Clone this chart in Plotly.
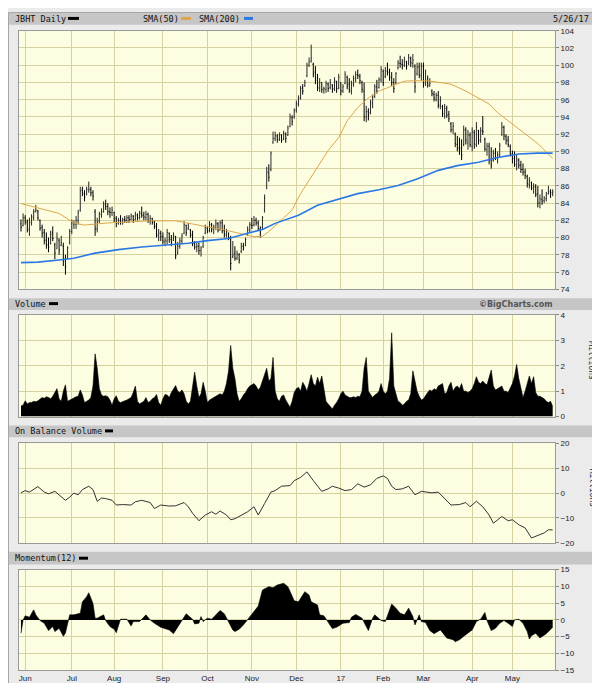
import plotly.graph_objects as go

W, H = 600, 683

# ---------------- data ----------------
high = [82.1,82.8,82.6,82.1,82.3,82.7,83.3,83.8,83.2,82.1,81.5,81.0,80.6,80.0,80.8,81.3,79.4,80.6,79.9,80.2,
        79.4,78.0,79.0,81.0,82.1,82.0,82.5,83.2,85.9,85.9,85.5,85.9,86.5,85.9,85.5,83.3,82.3,83.0,83.4,84.2,
        84.4,84.0,83.5,83.6,83.0,82.5,82.3,82.6,82.3,82.5,82.6,82.6,82.8,82.6,83.0,82.8,83.1,83.6,83.0,83.1,
        82.9,82.6,82.3,82.0,81.7,81.0,80.8,80.6,80.0,81.0,80.6,80.3,80.6,80.2,79.5,80.0,80.5,81.9,81.5,81.7,
        81.0,80.8,79.6,79.4,79.4,79.0,80.2,81.5,81.3,81.9,81.7,81.5,82.1,81.8,82.0,82.1,81.5,81.0,80.6,80.2,
        79.6,79.0,78.5,78.2,79.4,79.4,80.0,81.3,81.8,82.3,82.5,82.3,82.0,81.3,82.5,85.0,88.2,88.5,90.0,92.3,
        92.3,92.0,92.2,92.0,92.4,92.2,93.0,94.4,94.2,95.0,95.9,96.5,97.6,97.8,98.3,100.3,100.9,102.4,100.3,99.9,
        99.0,98.5,98.0,97.5,98.2,98.0,98.4,97.8,98.6,98.2,99.0,98.0,97.8,99.3,98.8,98.5,98.2,98.8,99.3,99.5,
        99.0,98.2,98.0,95.3,95.0,96.0,96.6,97.8,98.3,98.6,99.9,99.5,99.8,100.3,99.6,99.2,98.5,99.2,100.6,101.1,
        100.7,101.0,100.5,101.3,101.0,101.3,100.1,100.3,100.3,100.3,100.3,99.5,98.8,98.5,97.2,97.0,96.8,97.0,96.4,95.4,
        95.5,95.3,94.7,93.4,93.4,92.2,91.8,91.6,91.4,93.0,92.8,92.5,92.2,92.8,92.5,93.4,92.5,92.8,94.1,91.6,
        91.0,91.0,90.5,90.2,90.4,90.0,91.0,93.4,93.0,92.0,91.8,90.8,90.1,90.0,89.6,89.2,88.9,88.6,88.0,87.3,
        87.0,86.5,86.3,86.2,86.0,85.0,85.6,84.8,85.3,86.0,85.6,85.6]
low = [80.7,81.3,81.5,80.6,80.2,81.4,82.0,82.9,82.0,80.8,80.0,79.2,78.7,78.3,79.2,79.6,77.5,78.7,78.0,79.0,
       76.7,75.7,77.5,79.2,80.4,81.0,81.0,81.5,83.0,84.8,84.2,84.9,85.2,84.8,84.3,80.2,80.6,81.7,82.3,82.9,
       83.2,82.6,82.3,82.5,81.8,81.2,81.5,81.5,81.5,81.7,81.7,81.7,82.0,81.7,82.0,82.0,82.1,82.3,82.0,82.0,
       81.7,81.5,81.5,81.0,80.0,79.6,79.6,79.2,79.0,79.2,79.4,79.0,79.6,77.5,78.0,78.7,79.3,80.4,80.2,80.9,
       80.0,79.0,78.6,78.3,78.0,77.8,78.8,80.4,80.5,80.6,80.6,80.4,80.9,80.6,80.8,80.5,80.0,80.0,79.7,76.2,
       77.6,77.3,77.4,77.0,78.2,78.5,79.0,80.2,80.6,81.0,81.3,81.4,80.8,80.0,81.0,82.9,85.6,86.5,87.7,90.9,
       91.2,91.0,91.2,91.0,91.3,91.0,91.8,92.8,93.0,93.8,94.5,95.2,96.0,96.6,97.5,98.6,99.8,100.3,98.6,97.8,
       97.0,96.9,96.8,96.7,96.8,96.9,97.2,96.8,97.0,96.8,97.2,96.5,96.8,97.8,97.2,96.8,96.6,97.5,98.0,98.4,
       97.8,96.8,93.5,93.4,93.6,94.3,95.0,96.2,96.7,97.3,98.0,97.6,98.5,98.8,98.2,97.6,96.8,97.8,99.5,99.7,
       99.5,99.8,99.5,100.0,99.8,99.7,96.8,98.8,98.5,98.2,97.4,97.6,97.4,97.5,96.4,95.8,95.8,95.0,94.9,94.0,
       93.8,93.9,93.4,92.2,92.0,90.5,90.0,89.6,89.0,90.6,90.8,90.2,90.5,90.0,90.3,90.5,90.8,91.0,91.9,90.0,
       89.5,88.5,88.0,88.8,89.0,88.6,89.3,91.8,91.3,90.8,90.5,89.4,88.6,88.2,87.8,88.0,87.5,87.2,86.8,85.8,
       85.7,85.5,85.1,84.7,83.5,83.4,83.8,84.0,84.2,85.0,84.6,84.8]
open_ = [81.6,81.4,82.3,81.8,80.9,81.7,82.3,83.1,83.1,82.0,81.2,80.6,79.7,79.2,79.3,80.6,79.2,78.7,79.7,79.1,
         79.0,77.5,77.6,79.4,80.7,81.5,81.5,82.0,83.2,85.5,85.1,85.0,85.5,85.6,85.2,83.0,81.0,81.9,82.7,83.0,
         83.8,83.6,83.0,82.9,82.9,82.2,81.7,82.0,81.8,82.1,82.0,82.3,82.1,82.5,82.1,82.6,82.3,82.8,82.6,82.3,
         82.7,81.9,82.2,81.8,81.3,80.2,80.5,80.1,79.5,79.6,80.5,79.8,79.7,80.1,78.2,79.0,79.6,80.5,81.4,81.0,
         80.9,80.3,79.3,78.9,79.0,78.5,79.0,80.5,81.1,80.8,81.5,81.0,81.1,81.6,80.9,81.7,80.8,80.3,80.5,79.8,
         77.8,78.2,77.6,78.0,78.4,79.0,79.1,80.3,80.9,81.4,81.5,82.0,81.7,81.0,81.2,83.2,85.9,87.5,87.9,91.0,
         91.5,91.8,91.4,91.9,91.4,92.0,91.9,92.9,93.9,94.0,94.8,95.5,96.2,97.4,97.6,98.8,100.0,100.5,100.1,99.2,
         98.5,97.3,98.0,97.1,97.2,97.8,97.4,97.7,97.3,98.1,97.4,98.0,97.0,97.9,98.6,97.8,97.0,97.8,98.4,98.9,
         98.7,98.0,97.0,94.0,94.6,94.5,95.5,96.4,97.5,97.4,98.3,99.3,98.7,99.3,99.2,98.6,98.0,98.0,99.7,100.2,
         100.1,100.0,100.4,100.2,100.8,100.2,99.9,99.0,99.8,98.8,99.9,97.8,98.3,97.6,97.0,96.6,96.0,96.5,95.3,95.2,
         94.2,95.0,94.3,93.2,92.5,92.0,90.8,90.4,90.4,90.8,92.5,91.0,91.9,90.6,92.2,90.8,92.4,91.3,92.4,91.4,
         90.2,90.6,89.0,89.0,89.8,89.3,89.6,92.0,92.8,91.7,91.3,90.6,89.7,89.2,88.4,89.0,88.4,87.9,87.6,87.1,
         86.2,86.4,85.7,85.9,85.1,84.0,84.4,84.3,84.5,85.1,85.4,85.1]
close = [81.2,82.3,81.9,81.0,81.8,82.4,83.0,83.2,82.3,81.1,80.5,79.6,79.1,78.9,80.4,79.9,78.2,79.9,78.6,79.4,
         77.3,76.6,78.8,80.7,81.7,81.6,82.0,82.9,85.4,85.2,84.7,85.6,85.6,85.2,84.8,81.0,81.8,82.7,83.0,83.9,
         83.6,83.0,82.9,83.2,82.2,81.7,82.0,81.8,82.1,82.0,82.3,82.1,82.5,82.0,82.7,82.3,82.8,82.6,82.4,82.7,
         82.0,82.2,81.8,81.3,80.3,80.5,80.1,79.6,79.7,80.6,79.8,79.4,80.2,77.9,79.0,79.6,80.2,81.5,80.6,81.2,
         80.3,79.3,78.9,79.0,78.5,78.8,80.0,81.2,80.8,81.5,81.0,81.2,81.6,80.9,81.7,80.8,80.4,80.7,80.0,77.0,
         78.0,77.6,78.1,77.4,79.0,78.8,79.8,80.9,81.5,81.4,82.0,81.7,81.0,80.4,82.3,84.6,87.6,87.0,89.8,91.5,
         91.8,91.4,91.9,91.3,92.1,91.5,92.7,94.0,93.5,94.7,95.5,96.2,97.3,97.0,98.0,100.0,100.4,100.8,99.0,98.2,
         97.4,98.0,97.2,97.3,97.9,97.3,98.0,97.2,98.2,97.3,98.6,97.0,97.5,98.9,97.6,97.2,97.9,98.5,98.9,98.8,
         98.2,97.2,94.0,94.6,94.2,95.7,96.3,97.5,97.0,98.3,99.5,98.0,99.4,99.2,98.6,98.0,97.3,99.0,100.3,100.2,
         100.0,100.6,99.9,100.9,100.3,100.6,97.5,99.8,98.9,99.9,98.0,98.2,97.7,97.9,96.7,96.2,96.5,95.4,95.9,94.4,
         95.0,94.2,93.8,92.5,92.9,90.9,90.4,90.2,89.6,92.5,91.3,91.9,90.8,92.3,90.9,92.8,91.3,92.4,92.3,90.3,
         90.6,89.0,88.4,89.8,89.3,89.6,90.7,92.8,91.8,91.3,90.8,89.7,89.2,88.5,89.0,88.4,87.9,87.6,87.2,86.3,
         86.6,85.8,85.9,85.0,84.0,84.5,84.2,84.6,84.9,85.3,85.2,85.3]
days = list(range(len(close)))  # trading-day positions, May 27 2016 .. May 26 2017

sma50_idx = [0, 8, 18, 25, 30, 41, 49, 61, 73, 79, 88, 96, 104, 110, 114, 117, 121, 128, 132, 139,
             145, 150, 154, 159, 164, 169, 175, 181, 186, 192, 199, 203, 210, 216, 221, 225, 232, 238, 244, 251]
sma50_vals = [83.95, 83.4, 82.8, 81.7, 81.45, 81.7, 81.8, 81.95, 81.95, 81.7, 81.25, 80.9, 80.4, 80.1, 80.15, 80.7,
              81.6, 83.2, 85.1, 87.8, 90.1, 91.6, 93.55, 95.1, 96.2, 97.0, 97.6, 98.15, 98.2, 98.2, 97.95, 97.8,
              97.0, 96.2, 95.5, 94.5, 93.2, 92.0, 90.9, 89.2]
sma200_idx = [0, 8, 18, 25, 35, 46, 57, 68, 79, 88, 98, 107, 114, 120, 128, 131, 140, 150, 159, 169, 178,
              187, 197, 206, 216, 225, 235, 244, 251]
sma200_vals = [77.1, 77.15, 77.4, 77.6, 78.2, 78.6, 78.9, 79.15, 79.35, 79.65, 79.9, 80.5, 80.95, 81.65, 82.4,
               82.6, 83.75, 84.5, 85.1, 85.55, 86.05, 86.8, 87.8, 88.35, 88.75, 89.3, 89.7, 89.8, 89.8]

volume_m = [0.42,0.45,0.62,0.5,0.55,0.55,0.6,0.58,0.62,0.7,0.75,0.72,0.78,0.75,0.7,0.8,0.95,1.1,0.7,0.6,
            1.0,1.25,0.6,0.65,0.7,0.75,0.78,0.8,1.05,0.85,0.55,0.6,0.65,0.75,1.2,2.47,1.9,1.1,0.85,0.8,
            0.82,0.78,0.65,0.45,0.7,0.82,0.6,0.55,0.6,0.62,0.65,0.7,0.75,0.95,1.2,0.6,0.5,0.55,0.6,0.75,
            0.55,0.6,0.7,0.75,0.87,0.55,0.45,0.7,0.87,0.85,0.75,0.95,1.1,1.22,1.0,0.95,1.05,0.9,0.6,0.5,
            0.6,1.1,1.75,1.2,0.75,0.9,1.35,1.0,0.55,0.65,0.7,0.75,0.8,0.85,0.9,0.85,1.0,1.3,1.8,2.8,
            1.9,1.5,0.9,0.6,0.7,0.85,0.95,1.1,1.2,1.25,1.3,1.2,1.05,1.15,1.4,1.7,1.9,1.4,1.5,2.33,
            1.0,0.7,0.6,0.8,0.85,0.65,0.5,0.37,0.6,0.95,1.1,1.15,1.0,1.35,1.2,1.0,1.3,1.65,1.3,1.2,
            1.55,1.3,1.6,1.1,0.6,0.5,0.4,0.3,0.45,0.55,0.7,0.9,1.0,0.85,0.8,0.75,0.75,0.78,0.75,0.8,
            0.78,1.0,1.9,2.33,1.0,0.85,0.75,0.85,0.9,1.0,1.3,1.0,0.9,1.0,1.5,3.3,1.2,0.9,0.6,0.55,
            0.45,0.5,0.6,0.65,0.9,1.8,1.4,1.0,0.8,0.65,0.7,0.85,0.95,1.05,1.0,1.1,1.05,1.2,1.25,1.3,
            0.9,0.95,1.2,1.35,1.0,1.15,1.2,1.1,1.3,1.0,1.0,0.95,1.0,1.1,1.3,1.57,1.35,1.3,1.4,1.3,
            1.25,1.5,1.83,1.2,1.05,1.1,1.15,1.2,1.0,1.0,0.95,1.1,1.3,1.6,2.05,1.5,1.1,0.75,1.0,1.3,
            1.6,1.3,1.57,0.95,0.8,0.8,0.75,0.7,0.6,0.55,0.6,0.4]

obv_idx = [0, 2, 4, 6, 8, 11, 13, 16, 18, 21, 23, 25, 27, 29, 32, 34, 36, 38, 40, 43, 45, 48, 52, 54, 57, 61,
           63, 66, 70, 73, 77, 79, 81, 84, 87, 90, 92, 94, 97, 99, 101, 104, 107, 110, 112, 115, 118, 120, 123,
           127, 129, 132, 135, 138, 142, 145, 147, 150, 153, 156, 159, 162, 165, 168, 171, 173, 175, 177, 180,
           183, 186, 189, 192, 194, 197, 200, 203, 207, 210, 212, 215, 218, 221, 223, 227, 230, 232, 235, 238,
           241, 244, 247, 249, 251]
obv_vals = [0.1, 1.0, 0.4, 1.4, 2.6, 0.4, -0.3, 0.7, -0.9, -2.9, -1.6, 0.0, -0.7, 1.4, 2.75, 1.4, -3.3, -2.0,
            -2.2, -2.9, -4.8, -4.6, -4.8, -3.5, -2.9, -3.8, -6.2, -4.8, -5.2, -5.1, -3.8, -5.5, -8.1, -11.1,
            -8.8, -7.5, -8.5, -7.2, -8.8, -10.7, -10.3, -9.0, -7.5, -5.5, -8.8, -4.2, 0.4, 1.0, 2.75, 3.0,
            5.0, 6.3, 8.5, 5.0, 0.7, 1.7, 2.75, 2.0, 1.0, 1.4, 3.7, 2.4, 3.3, 5.9, 6.9, 5.9, 2.75, 1.4, 1.7,
            2.75, -0.7, 0.7, 0.4, 0.1, 0.4, -2.2, -4.8, -4.6, -3.8, -5.5, -3.3, -5.5, -8.8, -12.1, -9.4,
            -11.1, -10.7, -12.7, -14.0, -18.0, -16.9, -16.0, -14.7, -14.8]

mom_idx = [0, 1, 2, 4, 6, 7, 9, 11, 13, 15, 16, 18, 20, 21, 23, 25, 28, 29, 31, 32, 34, 35, 36, 39, 40, 42,
           44, 45, 47, 50, 52, 53, 56, 59, 61, 63, 66, 70, 72, 74, 76, 78, 81, 82, 84, 85, 86, 88, 90, 91, 94,
           96, 98, 100, 101, 103, 105, 107, 109, 110, 112, 114, 117, 119, 121, 124, 126, 128, 129, 131, 132,
           134, 136, 137, 140, 141, 143, 145, 147, 149, 152, 155, 156, 158, 161, 163, 164, 166, 167, 170,
           172, 173, 175, 177, 179, 181, 183, 185, 186, 188, 189, 191, 193, 195, 198, 201, 204, 205, 207,
           210, 213, 215, 217, 219, 220, 222, 224, 226, 228, 230, 232, 233, 235, 237, 239, 240, 241, 243,
           245, 248, 251]
mom_vals = [-4.0, 0.0, 1.2, 0.8, 3.0, 1.5, -0.2, -1.0, -3.2, -2.0, -3.5, -2.5, -4.9, -3.9, 1.5, 1.5, 2.0,
            5.4, 6.9, 8.1, 4.9, 0.5, 0.5, 1.5, -0.2, -2.0, -2.8, -3.8, 0.2, 0.2, -1.8, -0.5, -0.5, 1.5, 0.0,
            -1.0, -2.2, -3.0, -4.1, -2.0, 0.0, 1.8, 0.2, -1.2, -1.0, 1.0, -0.5, 0.5, 0.2, 0.8, 2.8, 1.8, -0.5,
            -3.0, -3.5, -2.8, -1.5, 0.0, 1.7, 2.5, 4.1, 8.9, 9.9, 9.6, 10.4, 10.9, 9.9, 6.9, 5.7, 5.4, 6.4,
            8.4, 7.4, 5.4, 4.4, 1.5, 1.2, -0.8, -2.6, -2.2, -1.0, -0.8, 0.8, 1.6, 0.5, -2.0, -3.2, 0.5, 1.5,
            -0.2, -0.5, 1.2, 4.7, 3.5, 2.0, 1.5, 3.5, 1.0, -1.5, 1.5, -0.5, -0.8, -3.2, -4.1, -3.0, -5.4,
            -5.9, -6.5, -5.9, -4.4, -3.0, -0.5, 0.2, 2.2, -0.2, -3.2, -2.5, -1.0, -0.2, -1.0, -2.0, 0.0, 0.2,
            -1.0, -3.5, -5.7, -4.7, -4.0, -5.4, -4.1, -2.2]

month_idx = [2, 24, 44, 67, 88, 109, 130, 151, 171, 190, 213, 232]
month_lbl = ["Jun", "Jul", "Aug", "Sep", "Oct", "Nov", "Dec", "17", "Feb", "Mar", "Apr", "May"]

price_ticks = list(range(74, 105, 2))
vol_ticks = [0, 1, 2, 3, 4]
obv_ticks = [-20, -10, 0, 10, 20]
mom_ticks = [-15, -10, -5, 0, 5, 10, 15]

# ---------------- styling / layout ----------------
BG = "#ebebeb"
HDR = "#c6c6c6"
PLOT_BG = "#fdfde2"
GRID = "#d6d3a0"
FRAME = "#9a9a9a"
ORANGE = "#dda64a"
BLUE = "#2a78e4"
TICKFONT = dict(family="Liberation Sans", size=8, color="#222")
HFONT = dict(family="DejaVu Sans Mono", size=8.5, color="#111")


def px(x):
    return x / W


def py(y):
    return 1 - y / H


XR = [-0.93, 252.1]
XDOM = [px(11), px(547)]

panels = {  # top, bottom in pixels
    "": (19, 281),
    "2": (307, 410),
    "3": (437, 538),
    "4": (565, 667),
}

fig = go.Figure()

fig.add_trace(go.Ohlc(x=days, open=open_, high=high, low=low, close=close,
                      increasing=dict(line=dict(color="#2a2a2a", width=1)),
                      decreasing=dict(line=dict(color="#000000", width=1)),
                      tickwidth=0.35, xaxis="x", yaxis="y", showlegend=False, hoverinfo="skip"))
fig.add_trace(go.Scatter(x=sma50_idx, y=sma50_vals, mode="lines", line=dict(color=ORANGE, width=1),
                         xaxis="x", yaxis="y", showlegend=False, hoverinfo="skip"))
fig.add_trace(go.Scatter(x=sma200_idx, y=sma200_vals, mode="lines", line=dict(color=BLUE, width=1.6),
                         xaxis="x", yaxis="y", showlegend=False, hoverinfo="skip"))

fig.add_trace(go.Scatter(x=days, y=volume_m, mode="lines", fill="tozeroy", fillcolor="#000",
                         line=dict(color="#000", width=0.6), xaxis="x2", yaxis="y2",
                         showlegend=False, hoverinfo="skip"))

fig.add_trace(go.Scatter(x=obv_idx, y=obv_vals, mode="lines", line=dict(color="#333", width=1),
                         xaxis="x3", yaxis="y3", showlegend=False, hoverinfo="skip"))

fig.add_trace(go.Scatter(x=mom_idx, y=mom_vals, mode="lines", fill="tozeroy", fillcolor="#000",
                         line=dict(color="#000", width=0.6), xaxis="x4", yaxis="y4",
                         showlegend=False, hoverinfo="skip"))

layout = dict(width=W, height=H, margin=dict(l=0, r=0, t=0, b=0), autosize=False,
              paper_bgcolor=BG, plot_bgcolor=PLOT_BG, showlegend=False,
              font=dict(family="Liberation Sans", size=8, color="#222"))

yranges = {"": [74, 104], "2": [0, 4], "3": [-20, 20], "4": [-15, 15]}
yticks = {"": price_ticks, "2": vol_ticks, "3": obv_ticks, "4": mom_ticks}

for k, (top, bot) in panels.items():
    xa = dict(domain=XDOM, range=XR, anchor="y" + k, tickmode="array", tickvals=month_idx,
              ticktext=month_lbl, showticklabels=(k == "4"), showgrid=True, gridcolor=GRID,
              gridwidth=1, zeroline=False, showline=True, mirror=True, linecolor=FRAME,
              linewidth=1, ticks="", tickfont=TICKFONT, fixedrange=True)
    if k == "":
        xa["rangeslider"] = dict(visible=False)
    ya = dict(domain=[py(bot), py(top)], range=yranges[k], anchor="x" + k, side="right",
              tickmode="array", tickvals=yticks[k], showgrid=True, gridcolor=GRID, gridwidth=1,
              zeroline=False, showline=True, mirror=True, linecolor=FRAME, linewidth=1,
              ticks="outside", ticklen=3, tickcolor="#888", tickfont=TICKFONT, fixedrange=True)
    layout["xaxis" + k] = xa
    layout["yaxis" + k] = ya

shapes = []
for (y0, y1) in [(0, 13), (290, 302), (419, 431), (547, 560)]:
    shapes.append(dict(type="rect", xref="paper", yref="paper", x0=0, x1=1, y0=py(y1), y1=py(y0),
                       fillcolor=HDR, line=dict(width=0), layer="below"))
for (x0, y0, x1, y1, c) in [(60, 5, 71, 8, "#000"), (173, 5, 183, 8, ORANGE), (236, 5, 245, 8, BLUE),
                            (41, 294, 50, 297, "#000"), (97, 423, 105, 426, "#000"),
                            (71, 552, 80, 555, "#000")]:
    shapes.append(dict(type="rect", xref="paper", yref="paper", x0=px(x0), x1=px(x1), y0=py(y1),
                       y1=py(y0), fillcolor=c, line=dict(width=0)))
shapes.append(dict(type="rect", xref="paper", yref="paper", x0=px(0.5), x1=px(599.5), y0=py(682.5),
                   y1=py(0.5), line=dict(color="#a6a6a6", width=1)))
layout["shapes"] = shapes


def ann(x, y, text, anchor="left", font=HFONT, angle=0):
    return dict(x=px(x), y=py(y), xref="paper", yref="paper", text=text, showarrow=False,
                xanchor=anchor, yanchor="middle", font=font, textangle=angle)


MFONT = dict(family="DejaVu Sans Mono", size=8, color="#222")
layout["annotations"] = [
    ann(5, 7, "JBHT Daily"),
    ann(133, 7, "SMA(50)"),
    ann(189, 7, "SMA(200)"),
    ann(583, 7, "5/26/17", anchor="right"),
    ann(5, 296, "Volume"),
    ann(547, 296, "<b>©BigCharts.com</b>", anchor="right",
        font=dict(family="DejaVu Sans", size=8, color="#555")),
    ann(5, 425, "On Balance Volume"),
    ann(5, 553.5, "Momentum(12)"),
    ann(584, 353, "Millions", anchor="center", font=MFONT, angle=90),
    ann(584, 482, "Millions", anchor="center", font=MFONT, angle=90),
]

fig.update_layout(**layout)
fig.write_html("out.html")
